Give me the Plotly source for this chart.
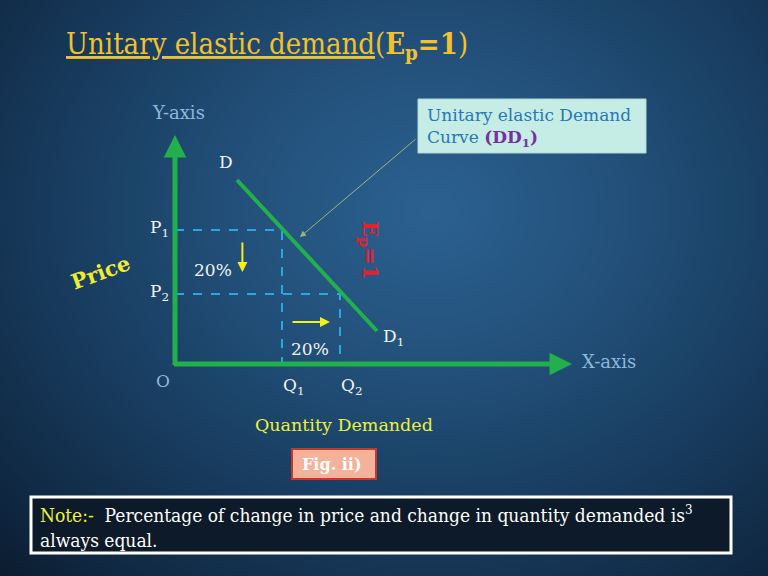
import numpy as np
import plotly.graph_objects as go

# diagram values (1 unit = 10 px on the slide)
price = [13.4, 7.0]          # P1, P2
quantity = [10.7, 16.5]      # Q1, Q2
price_labels = ['P<sub>1</sub>', 'P<sub>2</sub>']
qty_labels = ['Q<sub>1</sub>', 'Q<sub>2</sub>']
demand_x = [6.2, 20.2]       # D -> D1
demand_y = [18.4, 3.3]
demand_labels = ['D', 'D<sub>1</sub>']
y_axis_top = 22.9
x_axis_end = 39.7
pct_change = ['20%', '20%']

W, H = 768, 576
X0, Y0 = 175, 364            # origin on the slide, px
xr = [-X0 / 10, (W - X0) / 10]
yr = [(Y0 - H) / 10, Y0 / 10]

SERIF = 'DejaVu Serif, serif'
COND = 'DejaVu Serif Condensed, DejaVu Serif, serif'
GREEN = '#21b04b'
DASH = '#2aa6e0'
WHITE = '#f2f2f2'
LBLUE = '#8db8da'
YELLOW = '#f3ef1c'

fig = go.Figure()

# slide background: radial blue gradient
gx = np.linspace(xr[0], xr[1], 60)
gy = np.linspace(yr[0], yr[1], 46)
PX, PY = np.meshgrid(gx * 10 + X0, Y0 - gy * 10)
rad = np.sqrt(((PX - 430) / 430) ** 2 + ((PY - 210) / 360) ** 2)
fig.add_trace(go.Heatmap(
    x=gx, y=gy, z=rad, zsmooth='best', showscale=False, hoverinfo='skip',
    zmin=0, zmax=1.5,
    colorscale=[[0, '#2c6190'], [0.3, '#22507a'], [0.6, '#173a5c'],
                [0.85, '#0f263f'], [1, '#091726']]))

# dashed guides
fig.add_trace(go.Scatter(
    x=[0, quantity[0], quantity[0], None, 0, quantity[1], quantity[1]],
    y=[price[0], price[0], 0, None, price[1], price[1], 0],
    mode='lines', line=dict(color=DASH, width=2, dash='dash'),
    hoverinfo='skip', showlegend=False))

# demand curve
fig.add_trace(go.Scatter(x=demand_x, y=demand_y, mode='lines',
                         line=dict(color=GREEN, width=4),
                         hoverinfo='skip', showlegend=False))

ann = []


def arrow(x, y, ax, ay, color, width, size=1, head=2, ref='x'):
    ann.append(dict(x=x, y=y, ax=ax, ay=ay, xref=ref, yref='y',
                    axref=ref, ayref='y', text='', showarrow=True,
                    arrowhead=head, arrowsize=size, arrowwidth=width,
                    arrowcolor=color))


# axes with arrowheads
arrow(0, y_axis_top, 0, -0.25, GREEN, 5, size=0.9)
arrow(x_axis_end, 0, -0.25, 0, GREEN, 5, size=0.9)

# yellow change arrows
arrow(quantity[0] * 0.63, price[1] + 2.2, quantity[0] * 0.63, price[0] - 1.1, YELLOW, 2)
arrow(quantity[1] - 1.0, price[1] * 0.6, quantity[0] + 0.9, price[1] * 0.6, YELLOW, 2)

# callout arrow
arrow(12.5, 12.7, 24.2, 22.6, '#9db57c', 1, size=1.2)


def label(x, y, text, color=WHITE, size=17, **kw):
    d = dict(x=x, y=y, xref='x', yref='y', text=text, showarrow=False,
             font=dict(family=SERIF, size=size, color=color))
    d.update(kw)
    ann.append(d)


for p, t in zip(price, price_labels):
    label(-1.6, p + 0.2, t)
for q, t in zip(quantity, qty_labels):
    label(q + 1.2, -2.2, t)
label(demand_x[0] - 1.1, demand_y[0] + 1.8, demand_labels[0])
label(demand_x[1] + 1.6, demand_y[1] - 0.6, demand_labels[1])
label(3.8, 9.4, pct_change[0])
label(13.5, 1.5, pct_change[1])
label(-1.2, -1.7, 'O', color=LBLUE)
label(0.3, 25.2, 'Y-axis', color=LBLUE, size=18)
label(x_axis_end + 3.7, 0.3, 'X-axis', color=LBLUE, size=18)
label(16.9, -6.1, 'Quantity Demanded', color='#eef03a', size=17.5)
label(-7.5, 9.2, '<b>Price</b>', color='#f0ec30', size=21, textangle=-20)
label(19.5, 11.4, '<b>E<sub>p</sub>=1</b>', color='#e8202a', size=21,
      textangle=90)

# slide title
ann.append(dict(x=64 / W, y=1 - 46 / H, xref='paper', yref='paper',
                xanchor='left', yanchor='middle', showarrow=False,
                text='<u>Unitary elastic demand</u>(<b>E<sub>p</sub>=1</b>)',
                font=dict(family=COND, size=29, color='#f2c12e')))

# callout text
ann.append(dict(x=425 / W, y=1 - 127 / H, xref='paper', yref='paper',
                xanchor='left', yanchor='middle', align='left', showarrow=False,
                text='Unitary elastic Demand<br>Curve '
                     '<b><span style="color:#7a2f9e">(DD<sub>1</sub>)</span></b>',
                font=dict(family=SERIF, size=17, color='#2778b6')))

# figure tag
ann.append(dict(x=332 / W, y=1 - 464 / H, xref='paper', yref='paper',
                yanchor='middle', showarrow=False, text='<b>Fig. ii)</b>',
                font=dict(family=SERIF, size=16, color='white')))

# note text
ann.append(dict(x=38 / W, y=1 - 526 / H, xref='paper', yref='paper',
                xanchor='left', yanchor='middle', align='left', showarrow=False,
                text='<span style="color:#f0f040">Note:-</span>  Percentage of '
                     'change in price and change in quantity demanded is<sup>3</sup>'
                     '<br>always equal.',
                font=dict(family=COND, size=19, color='white')))

shapes = [
    dict(type='rect', xref='paper', yref='paper',
         x0=418 / W, x1=646 / W, y0=1 - 153 / H, y1=1 - 99 / H,
         fillcolor='#c6ece6', line=dict(color='#b2d8d2', width=1), layer='above'),
    dict(type='rect', xref='paper', yref='paper',
         x0=292 / W, x1=376 / W, y0=1 - 479 / H, y1=1 - 449 / H,
         fillcolor='#f3b299', line=dict(color='#c0392b', width=2), layer='above'),
    dict(type='rect', xref='paper', yref='paper',
         x0=31 / W, x1=731 / W, y0=1 - 553 / H, y1=1 - 497 / H,
         fillcolor='#0d1a29', line=dict(color='white', width=3), layer='above'),
]

fig.update_layout(
    width=W, height=H, margin=dict(l=0, r=0, t=0, b=0),
    paper_bgcolor='#0f2339', plot_bgcolor='#0f2339',
    xaxis=dict(range=xr, visible=False, fixedrange=True),
    yaxis=dict(range=yr, visible=False, fixedrange=True),
    annotations=ann, shapes=shapes, showlegend=False)

fig.write_html("out.html", config={'displayModeBar': False},
               post_script="document.body.style.margin='0';")
